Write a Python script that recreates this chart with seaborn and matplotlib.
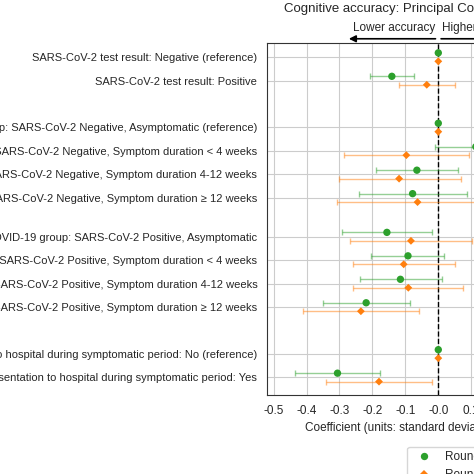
import matplotlib
matplotlib.use("Agg")
import matplotlib.pyplot as plt
import seaborn as sns
import pandas as pd
import numpy as np

sns.set_style("white")
plt.rcParams['font.family'] = ['Liberation Sans', 'DejaVu Sans']

labels = [
    "SARS-CoV-2 test result: Negative (reference)",
    "SARS-CoV-2 test result: Positive",
    "COVID-19 group: SARS-CoV-2 Negative, Asymptomatic (reference)",
    "COVID-19 group: SARS-CoV-2 Negative, Symptom duration < 4 weeks",
    "COVID-19 group: SARS-CoV-2 Negative, Symptom duration 4-12 weeks",
    "COVID-19 group: SARS-CoV-2 Negative, Symptom duration \u2265 12 weeks",
    "COVID-19 group: SARS-CoV-2 Positive, Asymptomatic",
    "COVID-19 group: SARS-CoV-2 Positive, Symptom duration < 4 weeks",
    "COVID-19 group: SARS-CoV-2 Positive, Symptom duration 4-12 weeks",
    "COVID-19 group: SARS-CoV-2 Positive, Symptom duration \u2265 12 weeks",
    "Presentation to hospital during symptomatic period: No (reference)",
    "Presentation to hospital during symptomatic period: Yes",
]
row_pos = [0, 1, 3, 4, 5, 6, 7.65, 8.65, 9.65, 10.65, 12.65, 13.65]

r1_coef = [0, -0.141, 0, 0.114, -0.065, -0.078, -0.156, -0.092, -0.115, -0.219, 0, -0.306]
r1_lo   = [0, -0.208, 0, -0.010, -0.188, -0.241, -0.292, -0.203, -0.239, -0.350, 0, -0.436]
r1_hi   = [0, -0.073, 0, 0.250, 0.061, 0.086, -0.020, 0.018, 0.011, -0.087, 0, -0.176]
r2_coef = [0, -0.035, 0, -0.097, -0.119, -0.063, -0.083, -0.105, -0.091, -0.235, 0, -0.180]
r2_lo   = [0, -0.120, 0, -0.285, -0.300, -0.307, -0.267, -0.258, -0.258, -0.412, 0, -0.342]
r2_hi   = [0, 0.050, 0, 0.092, 0.068, 0.180, 0.101, 0.050, 0.075, -0.058, 0, -0.020]

green = "#2ca02c"
orange = "#ff7f0e"

fig = plt.figure(figsize=(4.74, 4.74), dpi=100)
ax = fig.add_axes([267/474, 1-395/474, 336/474, (395-43)/474])

off = 0.18
y1 = np.array(row_pos) - off
y2 = np.array(row_pos) + off
df = pd.DataFrame({
    "coef": r1_coef + r2_coef,
    "y": list(y1) + list(y2),
    "Round": ["Round 1"]*12 + ["Round 2"]*12,
})
for c, lo, hi, yy, col in [(r1_coef, r1_lo, r1_hi, y1, green), (r2_coef, r2_lo, r2_hi, y2, orange)]:
    c = np.array(c); lo = np.array(lo); hi = np.array(hi)
    ax.errorbar(c, yy, xerr=[c-lo, hi-c], fmt='none', ecolor=col, alpha=0.5, elinewidth=1, capsize=2.5, zorder=2)
sns.scatterplot(data=df, x="coef", y="y", hue="Round", style="Round", size="Round",
                markers={"Round 1": "o", "Round 2": "D"},
                sizes={"Round 1": 28, "Round 2": 16},
                palette={"Round 1": green, "Round 2": orange},
                edgecolor="none", ax=ax, zorder=3)

ax.axvline(0, color="black", ls="--", lw=1, zorder=1)
ax.set_xlim(-0.52, 0.5)
ax.set_ylim(14.4, -0.6)
ax.set_yticks(row_pos)
ax.set_yticklabels(labels, fontsize=8)
ax.set_xticks(np.arange(-0.5, 0.51, 0.1))
ax.set_xticklabels([f"{v:.1f}" for v in np.arange(-0.5, 0.51, 0.1)], fontsize=8.5)
ax.grid(True, color="#cccccc", lw=0.8)
ax.set_axisbelow(True)
ax.set_ylabel("")
ax.set_xlabel("Coefficient (units: standard deviations from mean)", fontsize=8.5)
for s in ax.spines.values():
    s.set_color("#333333")

ax.annotate("", xy=(-0.28, 1.012), xytext=(0, 1.012), xycoords=("data", "axes fraction"),
            arrowprops=dict(arrowstyle="-|>", color="black", lw=1.2), annotation_clip=False)
ax.annotate("", xy=(0.28, 1.012), xytext=(0, 1.012), xycoords=("data", "axes fraction"),
            arrowprops=dict(arrowstyle="-|>", color="black", lw=1.2), annotation_clip=False)
ax.text(-0.01, 1.025, "Lower accuracy", transform=ax.get_xaxis_transform(), ha="right", va="bottom", fontsize=8.5)
ax.text(0.01, 1.025, "Higher accuracy", transform=ax.get_xaxis_transform(), ha="left", va="bottom", fontsize=8.5)
ax.set_title("Cognitive accuracy: Principal Component 1", fontsize=9.5, pad=22, loc="left", x=0.05)

handles, labs = ax.get_legend_handles_labels()
ax.legend(handles, labs, loc="upper left", bbox_to_anchor=(0.4, -0.13), fontsize=8.5, frameon=True)

fig.savefig("out.png", dpi=100)
